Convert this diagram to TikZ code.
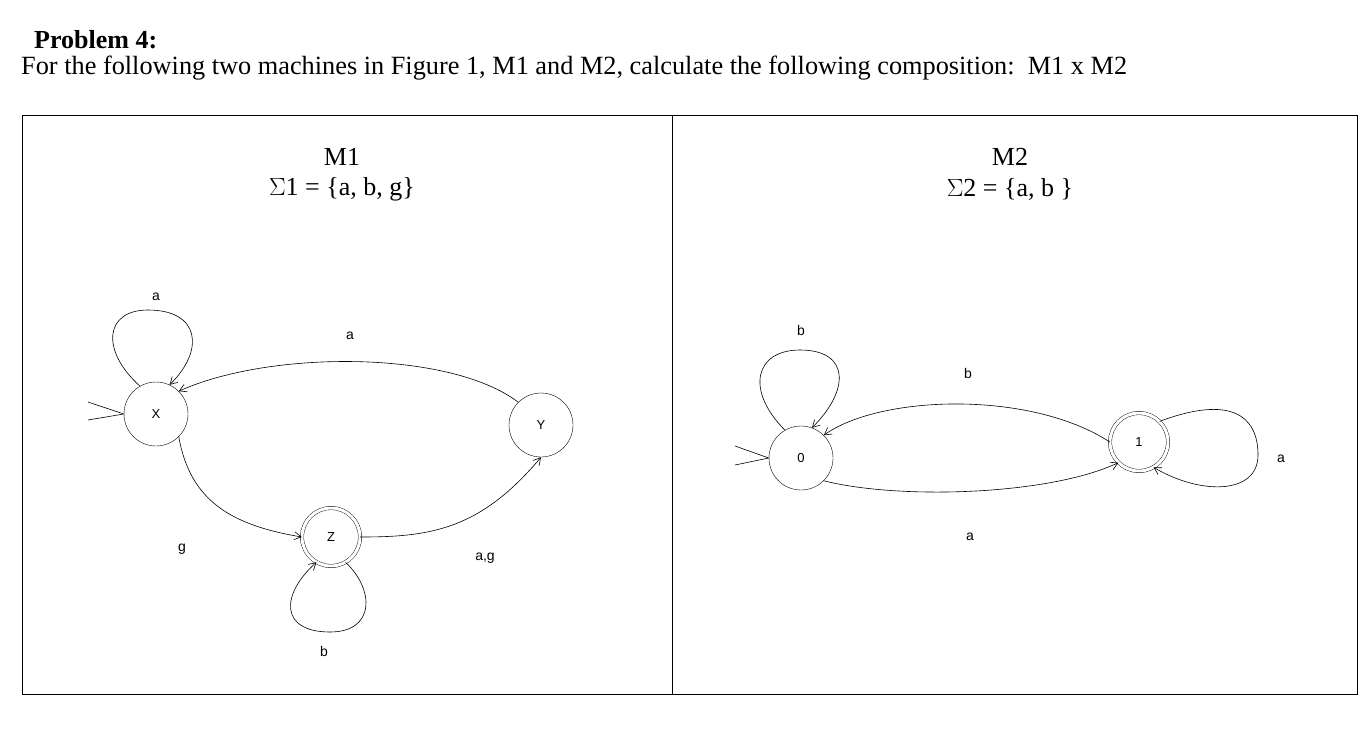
\documentclass[tikz,border=0pt]{standalone}
\usepackage{fontspec}
\setmainfont{Liberation Serif}
\newfontfamily\lab{Liberation Sans}
\usetikzlibrary{arrows.meta}
\begin{document}
\begin{tikzpicture}[x=1pt,y=-1pt,
  st/.style={circle,draw,minimum size=64pt,inner sep=0pt,font=\lab\fontsize{13}{13}\selectfont},
  acc/.style={st,double,double distance=3pt,minimum size=58pt},
  tr/.style={draw,line width=0.6pt,-{Straight Barb[length=7pt,width=8pt]}},
  lb/.style={font=\lab\fontsize{14}{14}\selectfont},
  tx/.style={font=\fontsize{26}{26}\selectfont}]
\useasboundingbox (0,0) rectangle (1364,755);
\node[anchor=west,inner sep=0pt,font=\bfseries\fontsize{26}{26}\selectfont] (t1) at (34,40) {Problem 4:};
\node[anchor=west,inner sep=0pt,font=\fontsize{26.3}{26}\selectfont] (t2) at (21,68) {For the following two machines in Figure 1, M1 and M2, calculate the following composition:\ \ M1 x M2};
\draw[line width=0.8pt] (22,115) rectangle (1357,694);
\draw[line width=0.8pt] (672,115) -- (672,694);
\node[tx] (m1) at (342,157) {M1};
\node[tx] (s1) at (342,189) {$\Sigma$1 = \{a, b, g\}};
\node[tx] (m2) at (1010,157) {M2};
\node[tx] (s2) at (1010,189) {$\Sigma$2 = \{a, b \}};
% M1
\node[st] (X) at (156,414) {X};
\node[st] (Y) at (541,425) {Y};
\node[acc] (Z) at (331,537) {Z};
\coordinate (xi1) at (88,402);
\coordinate (xi2) at (88,420);
\draw[line width=0.6pt] (xi1) -- (X.west) -- (xi2);
\draw[tr] (X.120) .. controls (100,350) and (105,310) .. (148,310) .. controls (200,310) and (205,350) .. (X.65);
\draw[tr] (Y.north west) .. controls (450,350) and (270,350) .. (X.north east);
\draw[tr] (X.south east) .. controls (190,500) and (230,525) .. (Z.west);
\draw[tr] (Z.east) .. controls (430,537) and (480,530) .. (Y.south);
\draw[tr] (Z.300) .. controls (375,590) and (375,632) .. (330,632) .. controls (280,632) and (280,595) .. (Z.240);
\node[lb] (la1) at (156,297) {a};
\node[lb] (la2) at (350,336) {a};
\node[lb] (lg) at (182,549) {g};
\node[lb] (lag) at (485,558) {a,g};
\node[lb] (lb1) at (324,651) {b};
% M2
\node[st] (q0) at (801,458) {0};
\node[acc] (q1) at (1139,442) {1};
\coordinate (qi1) at (735,446);
\coordinate (qi2) at (735,465);
\draw[line width=0.6pt] (qi1) -- (q0.west) -- (qi2);
\draw[tr] (q0.120) .. controls (745,390) and (755,350) .. (800,350) .. controls (850,350) and (850,390) .. (q0.70);
\draw[tr] (q1.west) .. controls (1030,390) and (880,395) .. (q0.north east);
\draw[tr] (q0.south east) .. controls (900,500) and (1050,495) .. (q1.south west);
\draw[tr] (q1.north east) .. controls (1230,395) and (1258,415) .. (1258,455) .. controls (1258,495) and (1200,495) .. (q1.300);
\node[lb] (lb2) at (801,330) {b};
\node[lb] (lb3) at (968,373) {b};
\node[lb] (la3) at (1281,459) {a};
\node[lb] (la4) at (970,537) {a};
\end{tikzpicture}
\end{document}
